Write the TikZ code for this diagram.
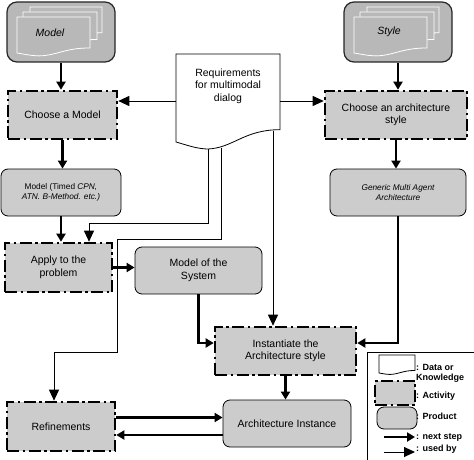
\documentclass[tikz,border=0pt]{standalone}
\usepackage{fontspec}
\setmainfont{Liberation Sans}
\usetikzlibrary{calc}
\usetikzlibrary{arrows.meta}

% page with a wavy bottom: left, top, width, height of left side
\newcommand\docpath[4]{({#1},{#2}) -- ({#1+#3},{#2}) -- ({#1+#3},{#2+0.86*#4})
  .. controls ({#1+0.65*#3},{#2+0.86*#4}) and ({#1+0.55*#3},{#2+1.07*#4}) .. ({#1+0.3*#3},{#2+1.08*#4})
  .. controls ({#1+0.2*#3},{#2+1.07*#4}) .. ({#1},{#2+#4}) -- cycle}

\begin{document}
\begin{tikzpicture}[x=1pt,y=-1pt,
    lbl/.style={font=\fontsize{10.5}{12.5}\selectfont, align=center},
    small/.style={font=\fontsize{8.3}{9.5}\selectfont\itshape, align=center},
    activity/.style={lbl, draw, fill=black!20, line width=2.6pt, dash pattern=on 12pt off 3.5pt on 2.5pt off 3.5pt},
    product/.style={lbl, draw, fill=black!20, line width=0.8pt, rounded corners=7pt},
    store/.style={draw=black!85, fill=black!28, line width=1.2pt, rounded corners=10pt},
    page/.style={draw=white, fill=black!28, line width=0.8pt},
    nextstep/.style={line width=2.6pt, -{Triangle[length=8pt,width=9pt]}},
    usedby/.style={line width=0.9pt, -{Triangle[length=11pt,width=10pt]}},
    legtext/.style={font=\fontsize{9}{10.5}\selectfont\bfseries, align=left, anchor=west, inner sep=1pt}]

    \useasboundingbox (0,0) rectangle (474,460);

    % stores of models and styles
    \node[store, minimum width=108pt, minimum height=60pt] (model) at (61,32) {};
    \node[store, minimum width=108pt, minimum height=60pt] (style) at (398,32) {};
    \foreach \dx in {0,337}{
        \foreach \p/\q/\w/\h in {13/-10/72/30, 6/-5/74/32, 0/0/73/36}
            \draw[page] \docpath{17+\dx+\p}{17+\q}{\w}{\h};
    }
    \node[lbl, font=\fontsize{10.5}{12}\selectfont\itshape] (modeltext) at (50,33) {Model};
    \node[lbl, font=\fontsize{10.5}{12}\selectfont\itshape] (styletext) at (389,32) {Style};

    % requirements
    \draw[line width=0.8pt, fill=white] \docpath{176}{54}{104}{88};
    \node[lbl] (req) at (228,86) {Requirements\\for multimodal\\dialog};
    \coordinate (reqL) at (176,101);
    \coordinate (reqR) at (280,101);
    \coordinate (reqA) at (208,149);
    \coordinate (reqB) at (221,147.5);
    \coordinate (reqC) at (273,130.5);

    % activities
    \node[activity, minimum width=109pt, minimum height=48pt] (choose) at (62.5,115) {Choose a Model};
    \node[activity, minimum width=142pt, minimum height=48pt] (choosearch) at (396,115) {Choose an architecture\\style};
    \node[activity, minimum width=107pt, minimum height=49pt] (apply) at (58.5,267.5) {Apply to the\\problem};
    \node[activity, minimum width=141pt, minimum height=48pt] (inst) at (285.5,351) {Instantiate the\\Architecture style};
    \node[activity, minimum width=108pt, minimum height=49pt] (refine) at (61,426.5) {Refinements};

    % products
    \node[product, small, minimum width=120pt, minimum height=47pt] (timed) at (61,192.5)
        {\upshape Model (Timed \itshape CPN,\\ATN. B-Method. etc.)};
    \node[product, small, minimum width=136pt, minimum height=47pt] (generic) at (398,192.5)
        {Generic Multi Agent\\Architecture};
    \node[product, minimum width=127pt, minimum height=47pt] (system) at (198.5,270.5) {Model of the\\System};
    \node[product, minimum width=128pt, minimum height=47pt] (archinst) at (287,423.5) {Architecture Instance};

    % next steps
    \draw[nextstep] (model.south) -- (model.south |- choose.north);
    \draw[nextstep] (style.south) -- (style.south |- choosearch.north);
    \draw[nextstep] (choose.south) -- (choose.south |- timed.north);
    \draw[nextstep] (choosearch.south) -- (choosearch.south |- generic.north);
    \draw[nextstep] (timed.south) -- (timed.south |- apply.north);
    \draw[nextstep] (apply.east) -- (apply.east -| system.west);
    \draw[nextstep] (system.south) |- ($(inst.west)+(0,-8)$);
    \draw[nextstep] (generic.south) |- ($(inst.east)+(0,-8)$);
    \draw[nextstep] (inst.south) -- (inst.south |- archinst.north);
    \draw[nextstep] ($(refine.east)+(0,-9)$) coordinate (r1) -- (r1 -| archinst.west);
    \draw[nextstep] ($(archinst.west)+(0,11.5)$) coordinate (r2) -- (r2 -| refine.east);

    % used by
    \draw[usedby] (reqL) -- (reqL -| choose.east);
    \draw[usedby] (reqR) -- (reqR -| choosearch.west);
    \coordinate (bendA) at (89,223);
    \draw[usedby] (reqA) |- (bendA) -- (bendA |- apply.north);
    \coordinate (bendB) at (117,239);
    \coordinate (bendC) at (54,352);
    \draw[usedby] (reqB) |- (bendB) |- (bendC) -- (bendC |- refine.north);
    \draw[usedby] (reqC) -- (reqC |- inst.north);

    % legend
    \draw[line width=0.8pt] (367,352) rectangle (480,470);
    \draw[line width=0.8pt, fill=white] \docpath{379}{355}{36}{18};
    \node[activity, minimum width=40pt, minimum height=24pt] (legact) at (395,393) {};
    \node[product, minimum width=40pt, minimum height=22pt] (legprod) at (397,418) {};
    \coordinate (ns1) at (384,437);
    \coordinate (ns2) at (415,437);
    \draw[nextstep] (ns1) -- (ns2);
    \coordinate (ub1) at (384,452);
    \coordinate (ub2) at (415,452);
    \draw[usedby] (ub1) -- (ub2);
    \node[legtext] (legdata) at (415,373.5) {: Data or\\Knowledge};
    \node[legtext] (legacttext) at (415,396) {: Activity};
    \node[legtext] (legprodtext) at (415,416) {: Product};
    \node[legtext] (legnext) at (415,437) {: next step};
    \node[legtext] (legused) at (415,449) {: used by};
\end{tikzpicture}
\end{document}
